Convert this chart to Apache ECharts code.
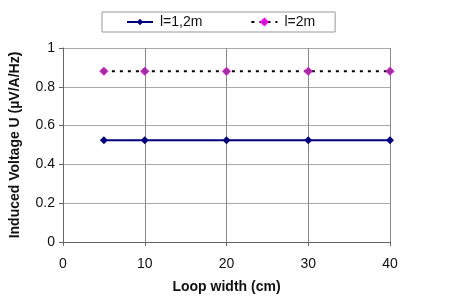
<!DOCTYPE html>
<html>
<head>
<meta charset="utf-8">
<script src="https://cdn.jsdelivr.net/npm/echarts@6/dist/echarts.min.js"></script>
<style>
  html, body { margin: 0; padding: 0; background: #fff; }
  #chart { width: 474px; height: 301px; }
</style>
</head>
<body>
<div id="chart"></div>
<script>
// loop widths (cm)
const loopWidth = [5, 10, 20, 30, 40]
// induced voltage per series
const u12 = [0.525, 0.525, 0.525, 0.525, 0.525]
const u2 = [0.88, 0.88, 0.88, 0.88, 0.88]
const seriesNames = ['l=1,2m', 'l=2m']

const font = '"Liberation Sans", Arial, sans-serif'
const chart = echarts.init(document.getElementById('chart'))

chart.setOption({
  animation: false,
  textStyle: { fontFamily: font },
  legend: {
    data: seriesNames,
    left: 102,
    top: 12,
    padding: [3, 20, 3, 24],
    itemGap: 48,
    itemWidth: 26,
    itemHeight: 8,
    borderColor: '#999',
    borderWidth: 1,
    textStyle: { fontFamily: font, fontSize: 14, color: '#111', padding: [0, 0, 0, 2] }
  },
  grid: { left: 59, right: 84, top: 48, bottom: 59 },
  xAxis: {
    type: 'value',
    min: 0, max: 40, interval: 10,
    name: 'Loop width (cm)',
    nameLocation: 'middle',
    nameGap: 38,
    nameTextStyle: { fontFamily: font, fontSize: 14, fontWeight: 'bold', color: '#111' },
    axisLine: { lineStyle: { color: '#666', width: 1 } },
    axisTick: { show: true, length: 4, lineStyle: { color: '#666' } },
    axisLabel: { fontFamily: font, fontSize: 14, color: '#111', margin: 15 },
    splitLine: { show: true, lineStyle: { color: '#888', width: 1 } }
  },
  yAxis: {
    type: 'value',
    min: 0, max: 1, interval: 0.2,
    name: 'Induced Voltage U (µV/A/Hz)',
    nameLocation: 'middle',
    nameGap: 41,
    nameTextStyle: { fontFamily: font, fontSize: 14, fontWeight: 'bold', color: '#111' },
    axisLine: { show: true, lineStyle: { color: '#666', width: 1 } },
    axisTick: { show: true, length: 4, lineStyle: { color: '#666' } },
    axisLabel: { fontFamily: font, fontSize: 14, color: '#111', margin: 8 },
    splitLine: { show: true, lineStyle: { color: '#aaa', width: 1 } }
  },
  series: [
    {
      name: seriesNames[0],
      type: 'line',
      data: loopWidth.map((x, i) => [x, u12[i]]),
      symbol: 'diamond',
      symbolSize: 8,
      lineStyle: { color: '#000080', width: 2 },
      itemStyle: { color: '#000080' }
    },
    {
      name: seriesNames[1],
      type: 'line',
      data: loopWidth.map((x, i) => [x, u2[i]]),
      symbol: 'diamond',
      symbolSize: 8,
      lineStyle: { color: '#000', width: 2, type: [3, 5] },
      itemStyle: { color: '#993399', borderColor: '#ff00ff', borderWidth: 1 }
    }
  ]
})
</script>
</body>
</html>
